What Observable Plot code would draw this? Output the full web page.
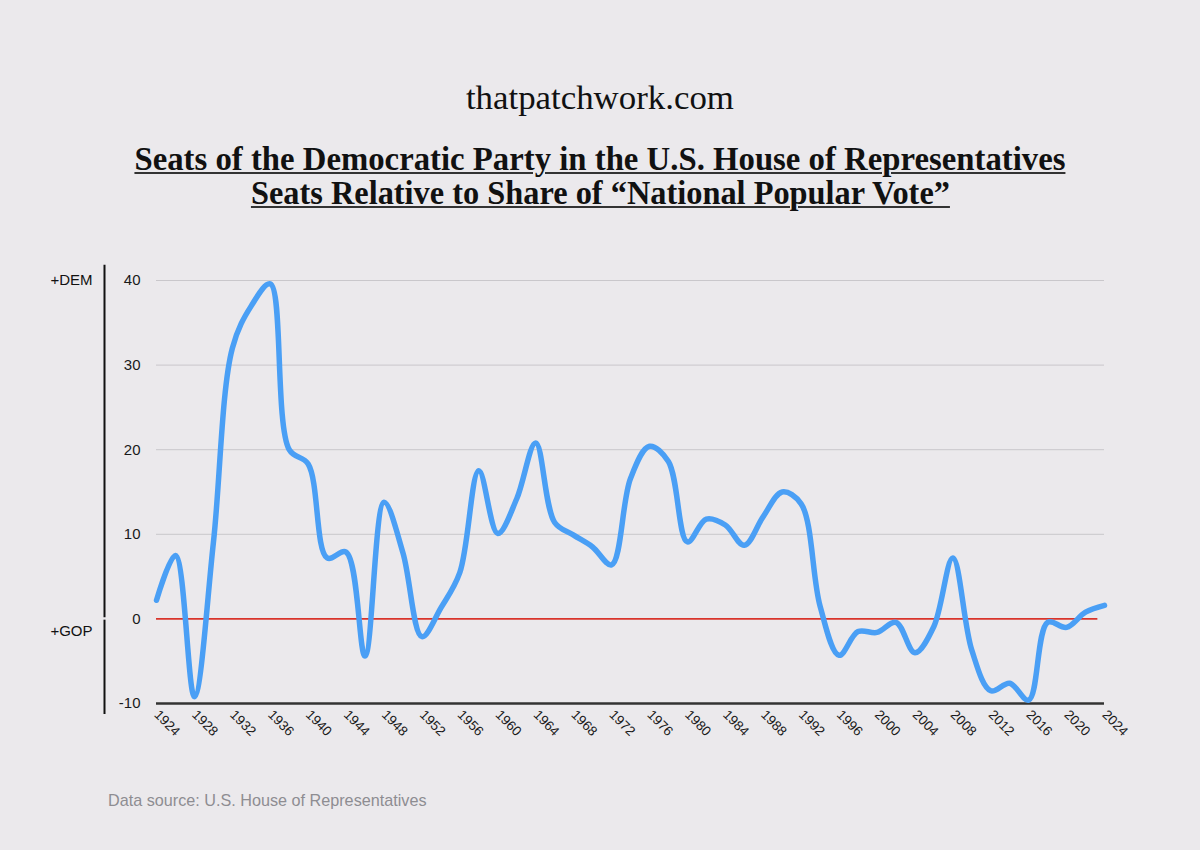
<!DOCTYPE html>
<html>
<head>
<meta charset="utf-8">
<script src="https://cdn.jsdelivr.net/npm/d3@7"></script>
<script src="https://cdn.jsdelivr.net/npm/@observablehq/plot@0.6"></script>
<style>
  html, body { margin: 0; padding: 0; }
  body { width: 1200px; height: 850px; background: #ebe9ec; position: relative; overflow: hidden; }
  .hdr { position: absolute; left: 0; width: 1200px; text-align: center; white-space: nowrap; }
  .hdr span { display: inline-block; transform-origin: 50% 50%; }
  #site { top: 80px; font-family: "Liberation Serif", serif; font-size: 33px; color: #111; }
  .ttl { font-family: "Liberation Serif", serif; font-weight: bold; font-size: 33px; color: #111; line-height: 36px; }
  .ttl span { text-decoration: underline; text-decoration-thickness: 2px; text-underline-offset: 2px; text-decoration-color: #333; }
  #t1 { top: 141px; }
  #t2 { top: 175px; }
  #chart { position: absolute; left: 0; top: 250px; }
  #source { position: absolute; left: 108px; top: 791px; font-family: "Liberation Sans", Arial, sans-serif; font-size: 16.2px; color: #8e8d92; }
</style>
</head>
<body>
<div class="hdr" id="site"><span data-w="268">thatpatchwork.com</span></div>
<div class="hdr ttl" id="t1"><span data-w="931">Seats of the Democratic Party in the U.S. House of Representatives</span></div>
<div class="hdr ttl" id="t2"><span data-w="699">Seats Relative to Share of “National Popular Vote”</span></div>
<div id="chart"></div>
<div id="source">Data source: U.S. House of Representatives</div>
<script>
// Election years and Democratic seat difference relative to national popular vote share
const years = [1924,1926,1928,1930,1932,1934,1936,1938,1940,1942,1944,1946,1948,1950,1952,1954,1956,1958,1960,1962,1964,1966,1968,1970,1972,1974,1976,1978,1980,1982,1984,1986,1988,1990,1992,1994,1996,1998,2000,2002,2004,2006,2008,2010,2012,2014,2016,2018,2020,2022,2024];
const values = [2.2,7.5,-9.2,9,32,37,39.6,20,18.3,7.2,7.9,-4.4,13.8,7.8,-2.1,1.3,5.5,17.5,10.1,14.2,20.8,11.4,9.9,8.5,6.4,16.6,20.4,18.6,9.1,11.8,11.1,8.7,12.1,15.0,13.6,1.5,-4.3,-1.5,-1.6,-0.4,-4.0,-0.9,7.2,-3.7,-8.5,-7.6,-9.6,-0.4,-1.0,0.8,1.6];
const xTicks = [1924,1928,1932,1936,1940,1944,1948,1952,1956,1960,1964,1968,1972,1976,1980,1984,1988,1992,1996,2000,2004,2008,2012,2016,2020,2024];
const yTicks = [-10,0,10,20,30,40];
const gridLines = [10,20,30,40];
const sideLabels = ["+DEM","+GOP"];
const sideLabelValues = [40,-1.5];
const sideBarTop = [0.15, 41.8];
const sideBarBottom = [-11.3, -0.15];

const data = years.map((y,i) => ({year: y, value: values[i]}));
const side = sideLabels.map((t,i) => ({t, v: sideLabelValues[i]}));

const plot = Plot.plot({
  width: 1200,
  height: 513,
  marginLeft: 156,
  marginRight: 96,
  marginTop: 30,
  marginBottom: 60,
  style: {background: "transparent", fontFamily: "'Liberation Sans', Arial, sans-serif", color: "#1a1a1a", overflow: "visible"},
  x: {domain: [1924, 2024]},
  y: {domain: [-10, 40]},
  marks: [
    Plot.ruleY(gridLines, {x1: 1924, x2: 2024, stroke: "#c9c7cb", strokeWidth: 1}),
    Plot.ruleY([0], {x1: 1924, x2: 2023.3, stroke: "#d9342b", strokeWidth: 1.6}),
    Plot.ruleY([-10], {x1: 1924, x2: 2024, stroke: "#333", strokeWidth: 2.5}),
    Plot.ruleX([1924], {y1: sideBarTop[0], y2: sideBarTop[1], dx: -52, stroke: "#111", strokeWidth: 2}),
    Plot.ruleX([1924], {y1: sideBarBottom[0], y2: sideBarBottom[1], dx: -52, stroke: "#111", strokeWidth: 2}),
    Plot.text(side, {x: 1924, y: "v", text: "t", dx: -64, textAnchor: "end", fontSize: 15, fill: "#111"}),
    Plot.axisY({ticks: yTicks, tickSize: 0, tickPadding: 16, fontSize: 15, tickFormat: d => String(d)}),
    Plot.axisX({ticks: xTicks, tickSize: 0, tickPadding: 9, fontSize: 13.5, tickRotate: 45, tickFormat: d => String(d), label: null}),
    Plot.line(data, {x: "year", y: "value", curve: "catmull-rom", stroke: "#4a9ff5", strokeWidth: 5.5, strokeLinecap: "round", strokeLinejoin: "round"})
  ]
});
document.getElementById("chart").appendChild(plot);

document.querySelectorAll(".hdr span").forEach(s => {
  const w = s.getBoundingClientRect().width;
  const target = +s.dataset.w;
  s.style.transform = `scaleX(${target / w})`;
});
</script>
</body>
</html>
